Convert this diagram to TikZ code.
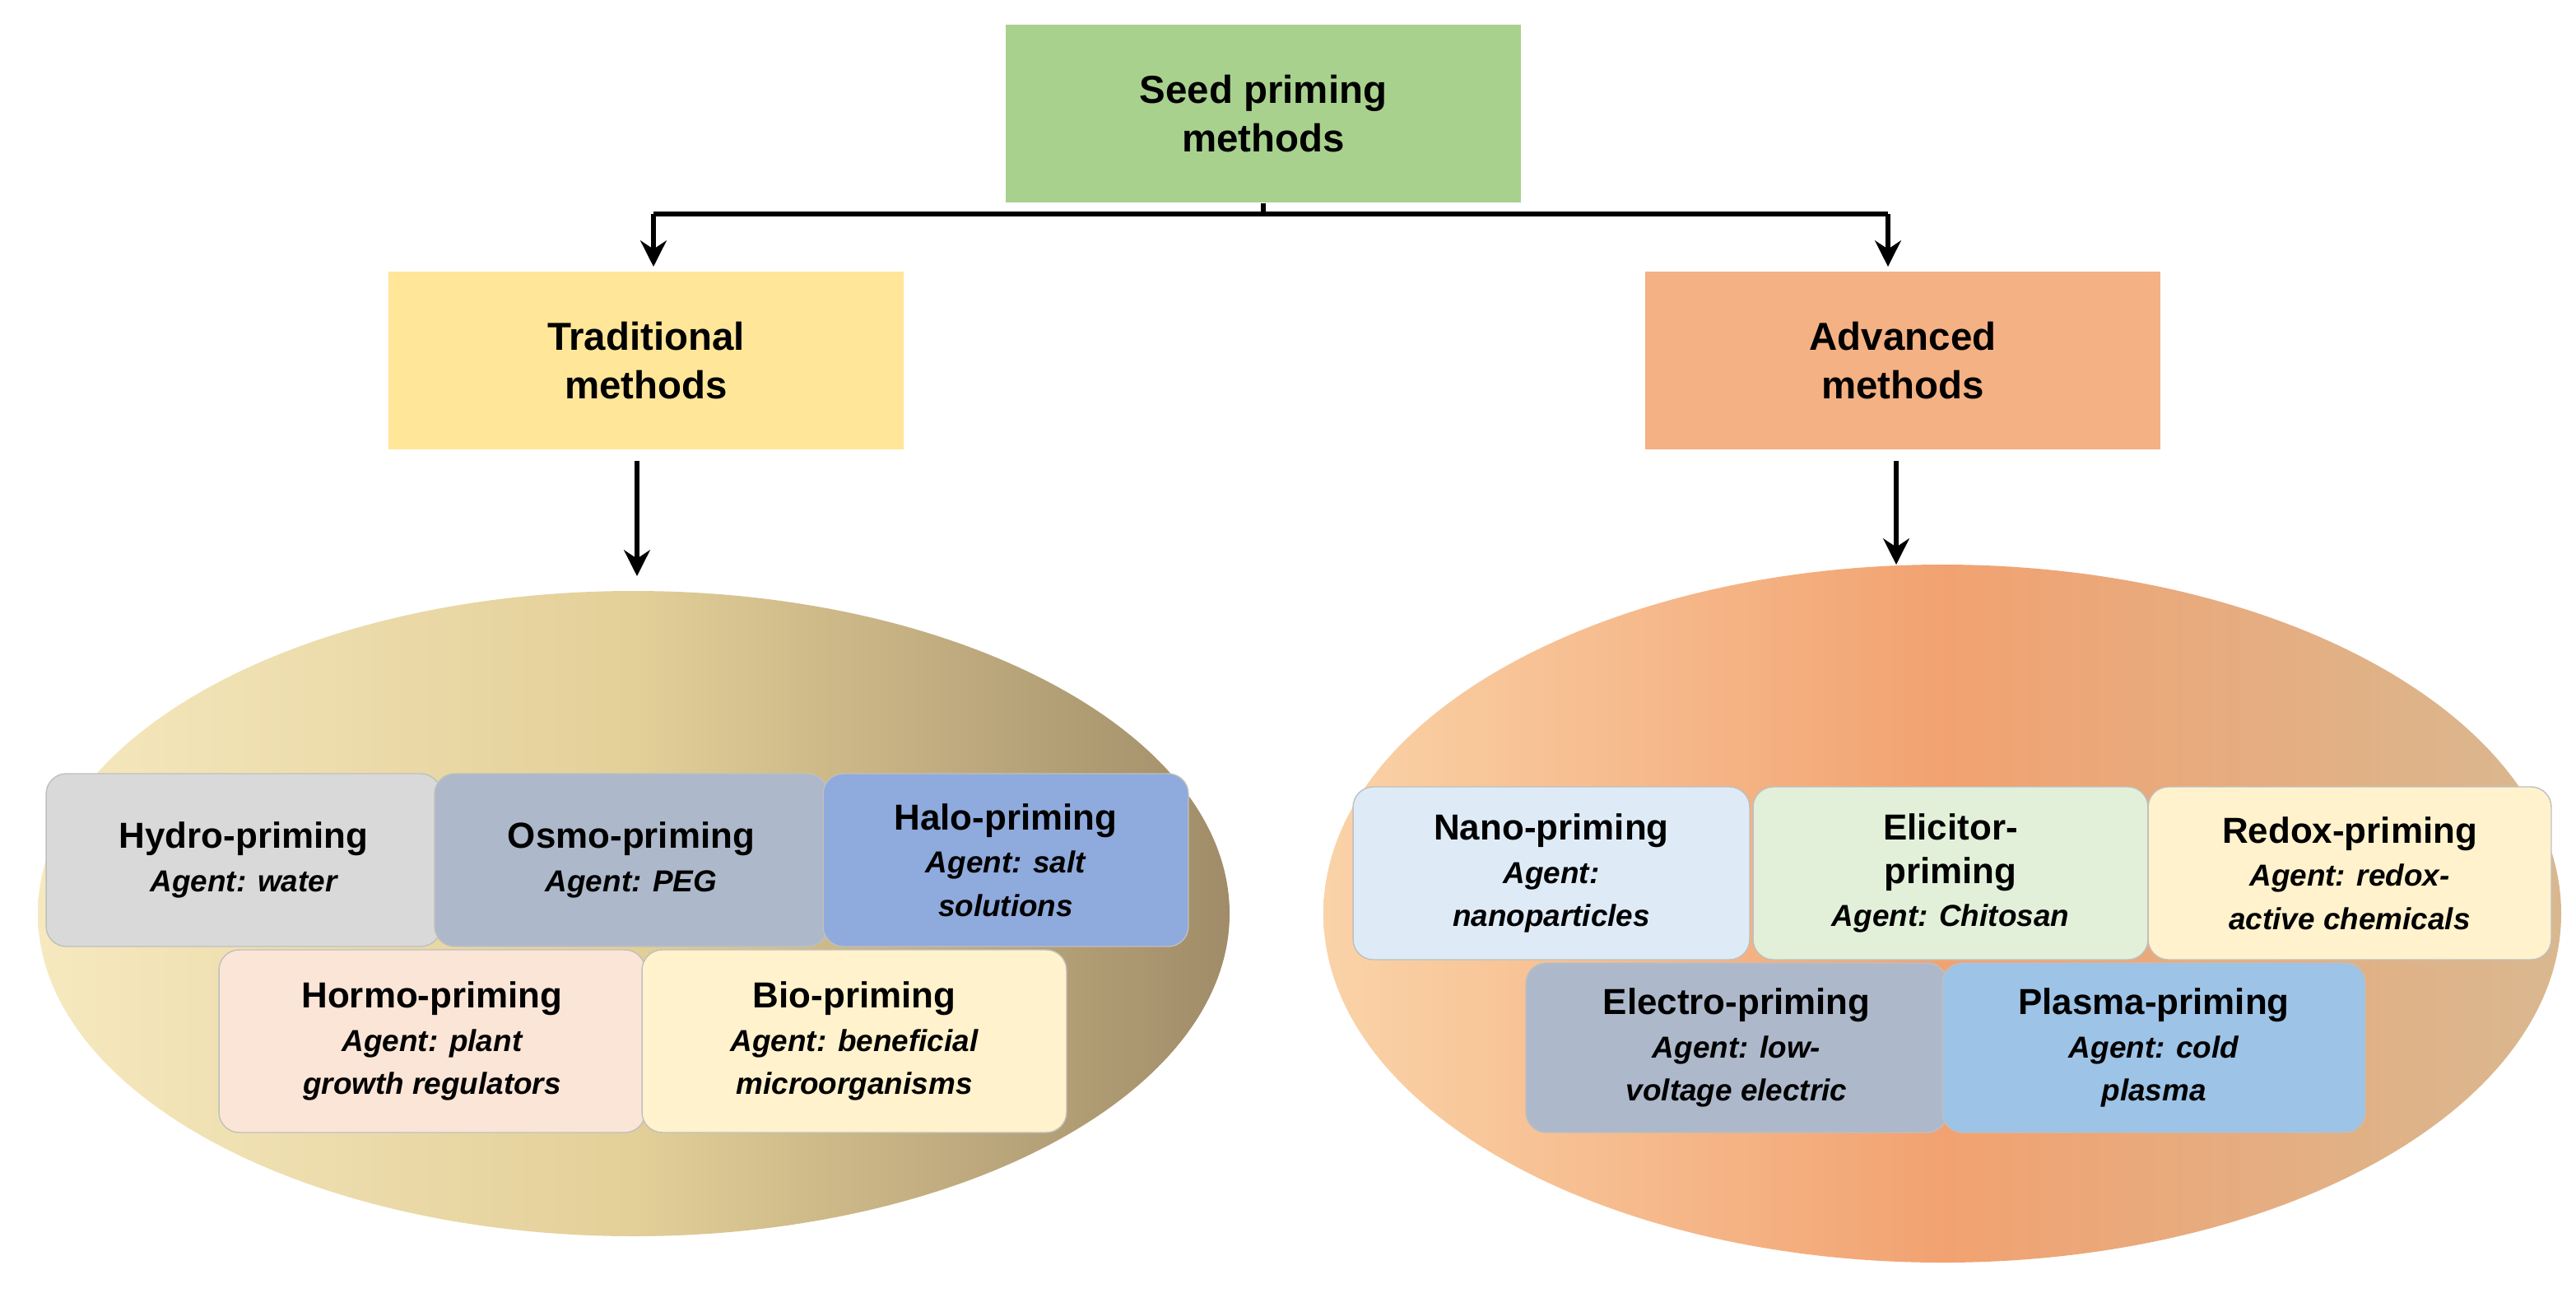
\documentclass[tikz,border=0pt]{standalone}
\usepackage{fontspec}
\setmainfont{Liberation Sans}
\usetikzlibrary{positioning,calc,arrows.meta}

\definecolor{seedgreen}{HTML}{A9D18E}
\definecolor{tradyellow}{HTML}{FFE699}
\definecolor{advorange}{HTML}{F4B183}
\definecolor{tanleft}{HTML}{F6E9BF}
\definecolor{tanmid}{HTML}{E3CF98}
\definecolor{tanright}{HTML}{A08C68}
\definecolor{orleft}{HTML}{FAD3A8}
\definecolor{ormid}{HTML}{F2A271}
\definecolor{orright}{HTML}{D9B890}
\newcommand{\agentfont}{\fontsize{10.5}{13}\selectfont\bfseries\itshape}

\tikzset{
  head/.style={rectangle, minimum width=6.26cm, minimum height=2.16cm, inner sep=0pt,
    align=center, font=\fontsize{13.5}{17}\selectfont\bfseries},
  method/.style={rectangle, rounded corners=7pt, draw=black!25, align=center,
    inner sep=0pt, font=\fontsize{12.5}{15}\selectfont\bfseries},
  link/.style={line width=1.8pt, -{Stealth[length=9pt,width=9pt]}},
}

\begin{document}
\begin{tikzpicture}[x=0.02cm, y=-0.02cm]
          \fill[white] (0, 0) rectangle (1565, 785);%
          \useasboundingbox (0, 0) rectangle (1565, 785);%
          % ellipses
          \shade[left color=tanleft, right color=tanright, middle color=tanmid]
            (385, 555) ellipse [x radius=362, y radius=196];%
          \shade[left color=orleft, right color=orright, middle color=ormid]
            (1180, 555) ellipse [x radius=376, y radius=212];%
          % heads
          \node [head, fill=seedgreen] (seed) at (767.5, 69) {Seed priming\\methods};%
          \node [head, fill=tradyellow] (trad) at (392.5, 219) {Traditional\\methods};%
          \node [head, fill=advorange] (adv) at (1156, 219) {Advanced\\methods};%
          \coordinate (split) at (767.5, 130);%
          \coordinate (tradtop) at (397, 130);%
          \coordinate (advtop) at (1147, 130);%
          \coordinate (tradin) at (397, 162);%
          \coordinate (advin) at (1147, 162);%
          \coordinate (tradout) at (387, 280);%
          \coordinate (advout) at (1152, 280);%
          \coordinate (tradend) at (387, 350);%
          \coordinate (advend) at (1152, 343);%
          \draw [line width=1.8pt] (seed.south) -- (split);%
          \draw [line width=1.8pt] (tradtop) -- (advtop);%
          \draw [link] (tradtop) -- (tradin);%
          \draw [link] (advtop) -- (advin);%
          \draw [link] (tradout) -- (tradend);%
          \draw [link] (advout) -- (advend);%
          % traditional methods
          \node [method, fill=black!15, minimum width=4.8cm, minimum height=2.1cm] (hydro) at (148, 522.5)
            {Hydro-priming\\{\agentfont Agent: water}};%
          \node [method, fill={rgb,255:red,173;green,185;blue,202}, minimum width=4.78cm, minimum height=2.1cm] (osmo) at (383.5, 522.5)
            {Osmo-priming\\{\agentfont Agent: PEG}};%
          \node [method, fill={rgb,255:red,143;green,170;blue,220}, minimum width=4.44cm, minimum height=2.1cm] (halo) at (611, 522.5)
            {Halo-priming\\{\agentfont Agent: salt}\\{\agentfont solutions}};%
          \node [method, fill={rgb,255:red,251;green,229;blue,214}, minimum width=5.18cm, minimum height=2.22cm] (hormo) at (262.5, 632.5)
            {Hormo-priming\\{\agentfont Agent: plant}\\{\agentfont growth regulators}};%
          \node [method, fill={rgb,255:red,255;green,242;blue,204}, minimum width=5.16cm, minimum height=2.22cm] (bio) at (519, 632.5)
            {Bio-priming\\{\agentfont Agent: beneficial}\\{\agentfont microorganisms}};%
          % advanced methods
          \node [method, fill={rgb,255:red,222;green,235;blue,247}, minimum width=4.82cm, minimum height=2.1cm] (nano) at (942.5, 530.5)
            {Nano-priming\\{\agentfont Agent:}\\{\agentfont nanoparticles}};%
          \node [method, fill={rgb,255:red,226;green,240;blue,217}, minimum width=4.8cm, minimum height=2.1cm] (elicitor) at (1185, 530.5)
            {Elicitor-\\priming\\{\agentfont Agent: Chitosan}};%
          \node [method, fill={rgb,255:red,255;green,242;blue,204}, minimum width=4.9cm, minimum height=2.1cm] (redox) at (1427.5, 530.5)
            {Redox-priming\\{\agentfont Agent: redox-}\\{\agentfont active chemicals}};%
          \node [method, fill={rgb,255:red,173;green,185;blue,202}, minimum width=5.12cm, minimum height=2.06cm] (electro) at (1055, 636.5)
            {Electro-priming\\{\agentfont Agent: low-}\\{\agentfont voltage electric}};%
          \node [method, fill={rgb,255:red,157;green,195;blue,230}, minimum width=5.14cm, minimum height=2.06cm] (plasma) at (1308.5, 636.5)
            {Plasma-priming\\{\agentfont Agent: cold}\\{\agentfont plasma}};%
        \end{tikzpicture}
\end{document}
